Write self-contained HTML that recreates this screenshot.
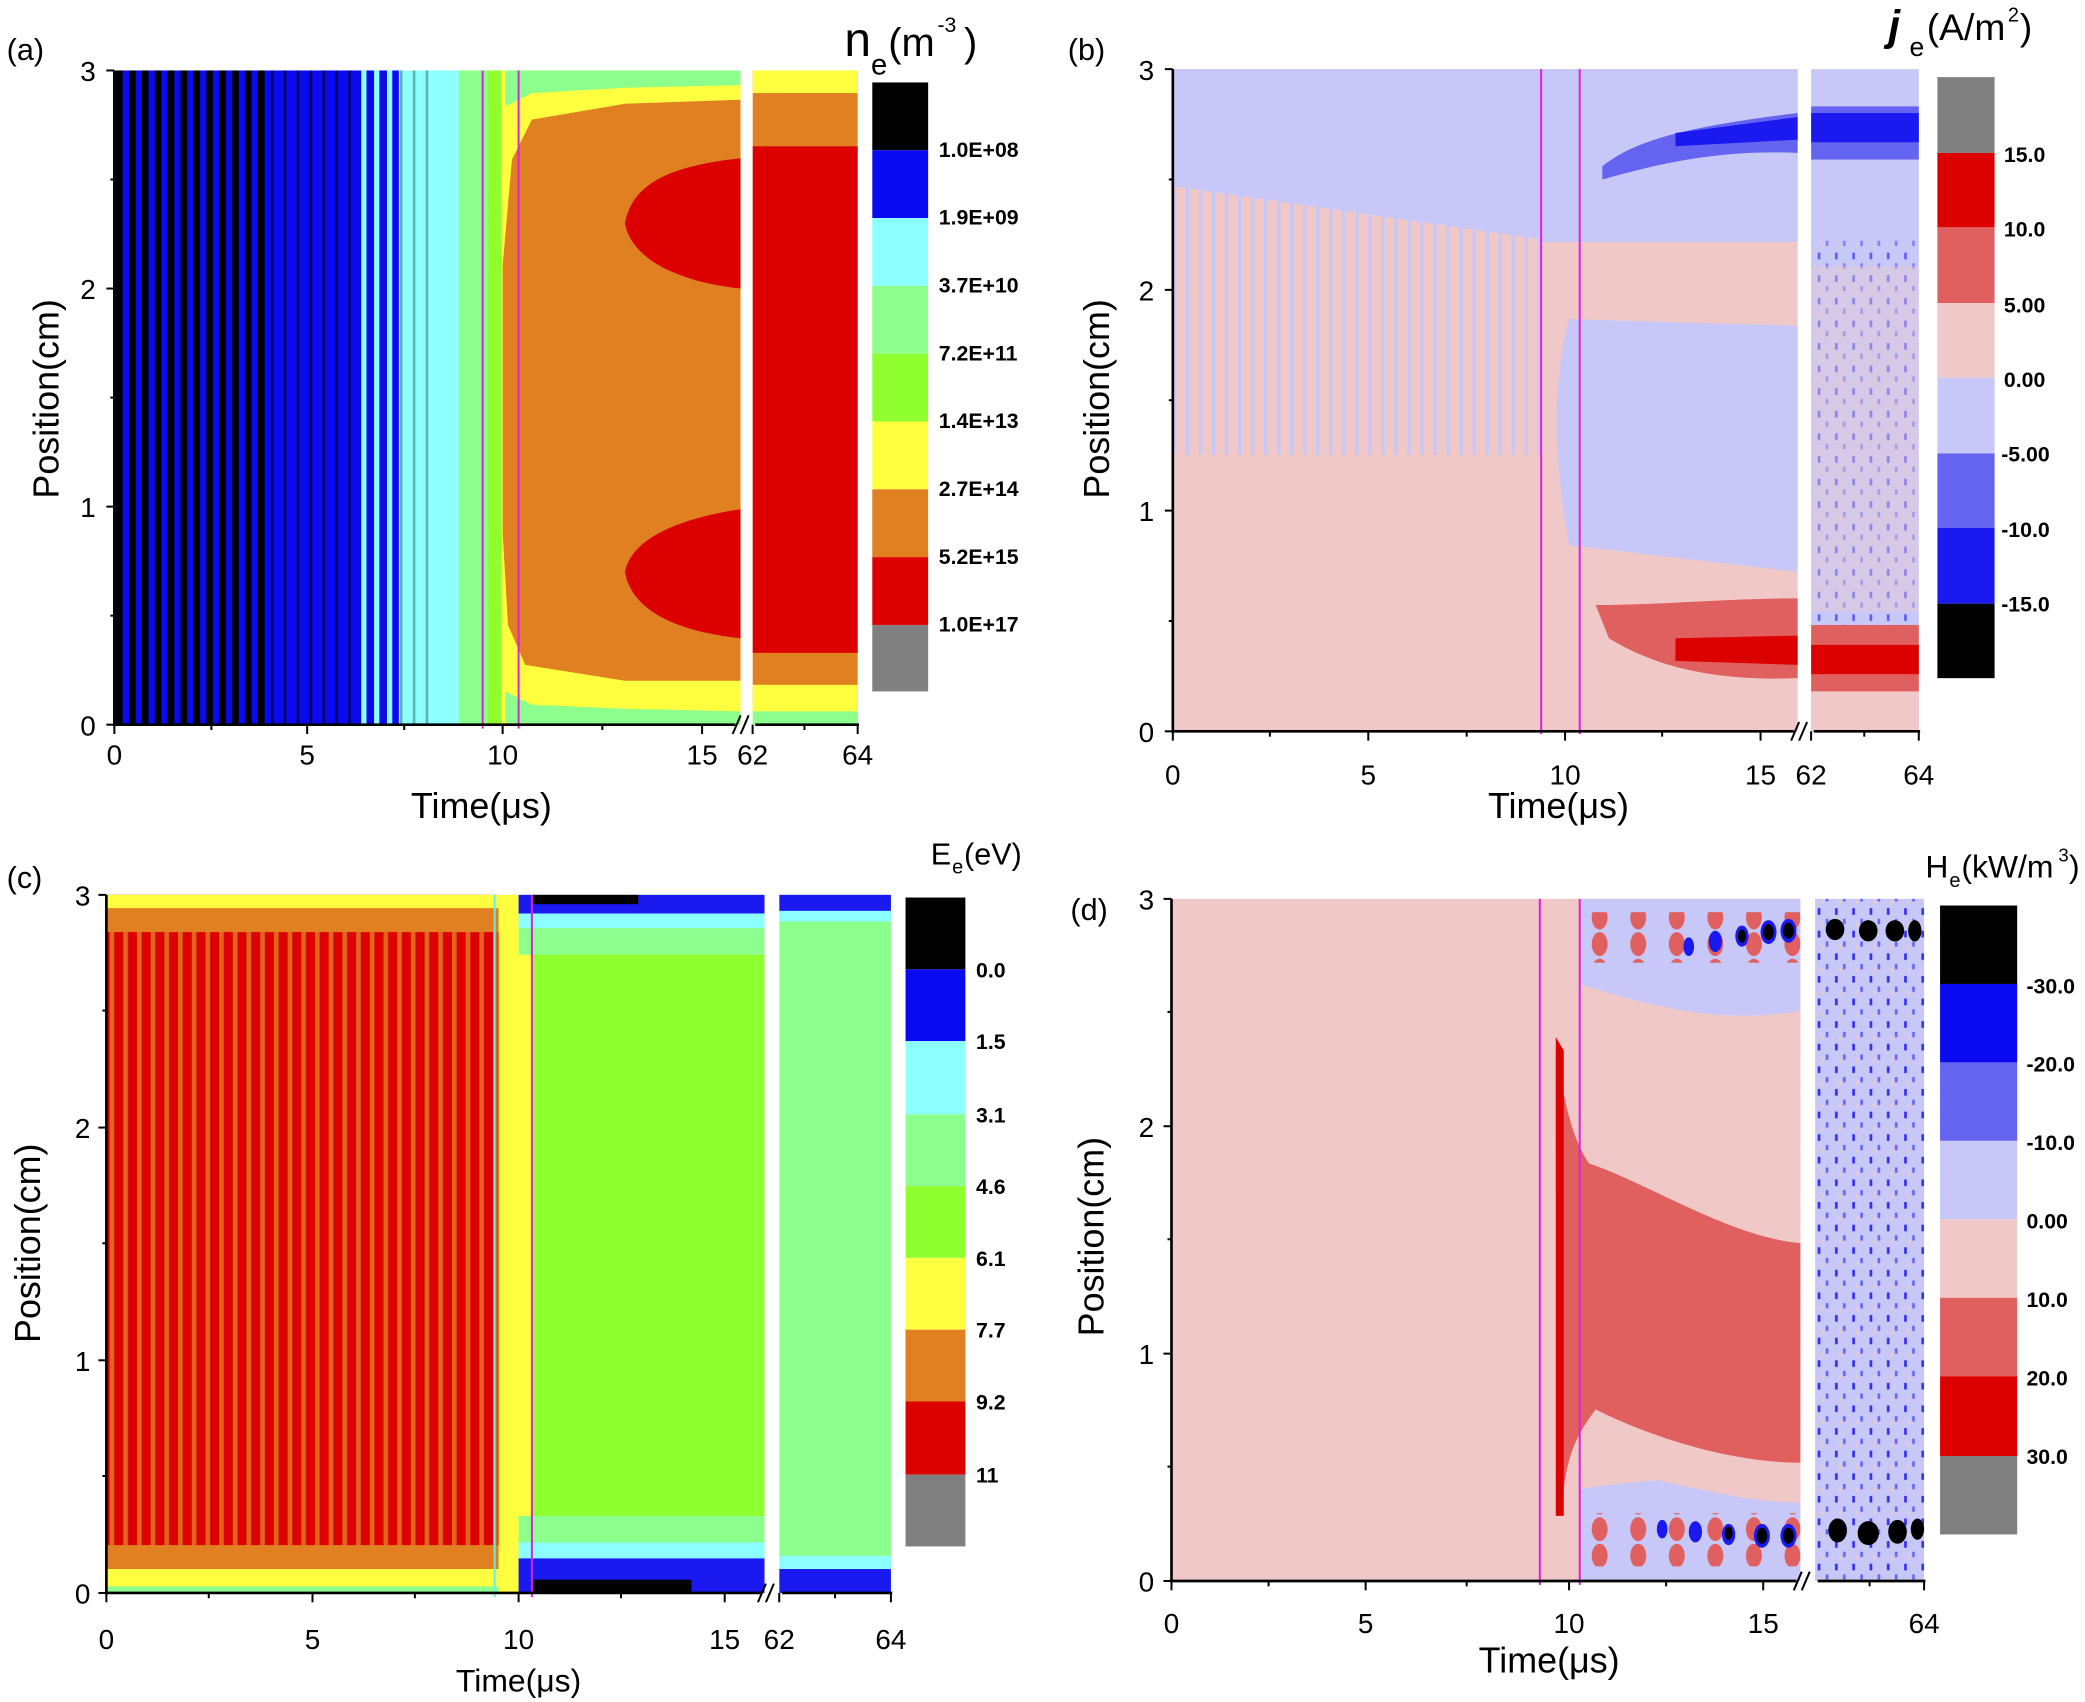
<!DOCTYPE html>
<html><head><meta charset="utf-8"><style>
html,body{margin:0;padding:0;background:#fff}
svg{display:block}
text{font-family:"Liberation Sans",sans-serif}
.t{font-size:21px}
.ax{font-size:27px}
.cb{font-size:16px;font-weight:bold}
</style></head><body>
<svg width="2085" height="1702" viewBox="0 0 1568 1280" preserveAspectRatio="none" xmlns="http://www.w3.org/2000/svg">
<defs>
<pattern id="pBlk" patternUnits="userSpaceOnUse" width="9.7" height="10"><rect width="5" height="10" fill="#000"/></pattern>
<pattern id="pBlkThin" patternUnits="userSpaceOnUse" width="9.7" height="10"><rect width="2" height="10" fill="#000"/></pattern>
<pattern id="pCy" patternUnits="userSpaceOnUse" width="9.7" height="10"><rect width="4" height="10" fill="#8cffff"/></pattern>
<pattern id="pOr" patternUnits="userSpaceOnUse" width="10.3" height="10"><rect width="3.5" height="10" fill="#e08020"/></pattern>
<pattern id="pLav" patternUnits="userSpaceOnUse" width="9.8" height="10"><rect width="2.5" height="10" fill="#c8c8f8"/></pattern>
<pattern id="pNoise" patternUnits="userSpaceOnUse" width="13" height="17"><rect x="2" y="3" width="2" height="5" fill="#3030ee"/><rect x="8" y="11" width="2" height="4" fill="#6666f0"/><rect x="5" y="14" width="1.5" height="3" fill="#f0c8c8"/></pattern>
<pattern id="pDotsA" patternUnits="userSpaceOnUse" width="29" height="20"><ellipse cx="14" cy="10" rx="6" ry="9" fill="#e06060"/></pattern>
</defs>

<!-- ============ PANEL A ============ -->
<g>
<rect x="86" y="53" width="214" height="492" fill="#0a0af0"/>
<rect x="86" y="53" width="114" height="492" fill="url(#pBlk)"/>
<rect x="200" y="53" width="100" height="492" fill="url(#pBlkThin)" opacity="0.6"/>
<rect x="270" y="53" width="30" height="492" fill="url(#pCy)"/>
<rect x="300" y="53" width="45" height="492" fill="#8cffff"/>
<rect x="300" y="53" width="25" height="492" fill="url(#pBlkThin)" opacity="0.3"/>
<rect x="345" y="53" width="22" height="492" fill="#8cff8c"/>
<rect x="367" y="53" width="10" height="492" fill="#90ff30"/>
<rect x="377" y="53" width="180" height="492" fill="#e08020"/>
<path d="M377 53 L557 53 L557 75 L470 78 L400 90 L385 120 L378 200 L378 400 L382 470 L395 500 L470 512 L557 512 L557 545 L377 545 Z" fill="#ffff40"/>
<path d="M380 53 L557 53 L557 64 L470 66 L400 70 L380 80 Z" fill="#8cff8c"/>
<path d="M380 545 L557 545 L557 535 L470 533 L400 530 L380 520 Z" fill="#8cff8c"/>
<path d="M557 119 C500 125 475 140 470 168 C475 195 510 212 557 217 Z" fill="#dd0000"/>
<path d="M557 383 C510 390 475 405 470 430 C475 460 510 475 557 480 Z" fill="#dd0000"/>
<rect x="566" y="53" width="79" height="492" fill="#e08020"/>
<rect x="566" y="53" width="79" height="17" fill="#ffff40"/>
<rect x="566" y="515" width="79" height="30" fill="#ffff40"/>
<rect x="566" y="535" width="79" height="10" fill="#8cff8c"/>
<rect x="566" y="110" width="79" height="381" fill="#dd0000"/>
<line x1="363" y1="53" x2="363" y2="548" stroke="#e020e0" stroke-width="1.5"/>
<line x1="390" y1="53" x2="390" y2="548" stroke="#e020e0" stroke-width="1.5"/>
<rect x="557" y="50" width="9" height="497" fill="#fff"/>
<line x1="86" y1="53" x2="86" y2="546" stroke="#000" stroke-width="2"/>
<line x1="85" y1="545" x2="553" y2="545" stroke="#000" stroke-width="2"/>
<line x1="568" y1="545" x2="646" y2="545" stroke="#000" stroke-width="2"/>
<g stroke="#000" stroke-width="1.5">
<line x1="86" y1="545" x2="86" y2="552"/><line x1="231" y1="545" x2="231" y2="552"/><line x1="378" y1="545" x2="378" y2="552"/><line x1="528" y1="545" x2="528" y2="552"/><line x1="566" y1="545" x2="566" y2="552"/><line x1="645" y1="545" x2="645" y2="552"/>
<line x1="159" y1="545" x2="159" y2="549"/><line x1="304" y1="545" x2="304" y2="549"/><line x1="453" y1="545" x2="453" y2="549"/><line x1="605" y1="545" x2="605" y2="549"/>
<line x1="80" y1="53" x2="86" y2="53"/><line x1="80" y1="217" x2="86" y2="217"/><line x1="80" y1="381" x2="86" y2="381"/><line x1="80" y1="545" x2="86" y2="545"/>
<line x1="83" y1="135" x2="86" y2="135"/><line x1="83" y1="299" x2="86" y2="299"/><line x1="83" y1="463" x2="86" y2="463"/>
<line x1="551" y1="552" x2="557" y2="538"/><line x1="557" y1="552" x2="563" y2="538"/>
</g>
<g class="t" text-anchor="middle"><text x="86" y="575">0</text><text x="231" y="575">5</text><text x="378" y="575">10</text><text x="528" y="575">15</text><text x="566" y="575">62</text><text x="645" y="575">64</text></g>
<g class="t" text-anchor="end"><text x="72" y="61">3</text><text x="72" y="225">2</text><text x="72" y="389">1</text><text x="72" y="553">0</text></g>
<text x="5" y="45" style="font-size:23px">(a)</text>
<text class="ax" x="362" y="615" text-anchor="middle">Time(μs)</text>
<text class="ax" transform="translate(44,300) rotate(-90)" text-anchor="middle">Position(cm)</text>
<text x="635" y="42" style="font-size:36px">n</text><text x="655" y="56" style="font-size:22px">e</text><text x="668" y="42" style="font-size:30px">(m</text><text x="705" y="24" style="font-size:16px">-3</text><text x="725" y="42" style="font-size:30px">)</text>
<rect x="656" y="62" width="42" height="51" fill="#000"/><rect x="656" y="113" width="42" height="51" fill="#0a0af0"/><rect x="656" y="164" width="42" height="51" fill="#8cffff"/><rect x="656" y="215" width="42" height="51" fill="#8cff8c"/><rect x="656" y="266" width="42" height="51" fill="#90ff30"/><rect x="656" y="317" width="42" height="51" fill="#ffff40"/><rect x="656" y="368" width="42" height="51" fill="#e08020"/><rect x="656" y="419" width="42" height="51" fill="#dd0000"/><rect x="656" y="470" width="42" height="50" fill="#808080"/>
<g class="cb"><text x="706" y="118">1.0E+08</text><text x="706" y="169">1.9E+09</text><text x="706" y="220">3.7E+10</text><text x="706" y="271">7.2E+11</text><text x="706" y="322">1.4E+13</text><text x="706" y="373">2.7E+14</text><text x="706" y="424">5.2E+15</text><text x="706" y="475">1.0E+17</text></g>
</g>

<!-- ============ PANEL B ============ -->
<g>
<rect x="882" y="52" width="470" height="498" fill="#f0c8c8"/>
<rect x="882" y="52" width="277" height="80" fill="#c8c8f8"/>
<rect x="882" y="132" width="277" height="210" fill="url(#pLav)"/>
<path d="M882 132 L1159 132 L1159 180 L882 140 Z" fill="#c8c8f8"/>
<rect x="1159" y="52" width="193" height="130" fill="#c8c8f8"/>
<path d="M1205 125 C1230 105 1270 95 1352 85 L1352 115 C1290 112 1240 125 1205 135 Z" fill="#6464f0"/>
<path d="M1260 100 L1352 88 L1352 105 L1260 110 Z" fill="#1a1af0"/>
<rect x="1159" y="182" width="193" height="50" fill="#f0c8c8"/>
<path d="M1180 240 L1352 245 L1352 430 L1180 410 C1170 350 1165 300 1180 240 Z" fill="#c8c8f8"/>
<path d="M1200 455 C1250 455 1300 450 1352 450 L1352 510 C1300 512 1250 505 1210 480 Z" fill="#e06060"/>
<path d="M1260 480 L1352 478 L1352 500 L1260 497 Z" fill="#dd0000"/>
<rect x="1362" y="52" width="81" height="498" fill="#c8c8f8"/>
<rect x="1362" y="180" width="81" height="300" fill="url(#pNoise)" opacity="0.7"/>
<rect x="1362" y="200" width="81" height="260" fill="#f0c8c8" opacity="0.35"/>
<rect x="1362" y="80" width="81" height="40" fill="#6464f0"/>
<rect x="1362" y="85" width="81" height="22" fill="#1a1af0"/>
<rect x="1362" y="470" width="81" height="50" fill="#e06060"/>
<rect x="1362" y="485" width="81" height="22" fill="#dd0000"/>
<rect x="1362" y="520" width="81" height="30" fill="#f0c8c8"/>
<line x1="1159" y1="52" x2="1159" y2="552" stroke="#e020e0" stroke-width="1.5"/>
<line x1="1188" y1="52" x2="1188" y2="552" stroke="#e020e0" stroke-width="1.5"/>
<rect x="1352" y="48" width="10" height="504" fill="#fff"/>
<line x1="882" y1="52" x2="882" y2="551" stroke="#000" stroke-width="2"/>
<line x1="881" y1="550" x2="1349" y2="550" stroke="#000" stroke-width="2"/>
<line x1="1364" y1="550" x2="1444" y2="550" stroke="#000" stroke-width="2"/>
<g stroke="#000" stroke-width="1.5">
<line x1="882" y1="550" x2="882" y2="557"/><line x1="1029" y1="550" x2="1029" y2="557"/><line x1="1177" y1="550" x2="1177" y2="557"/><line x1="1324" y1="550" x2="1324" y2="557"/><line x1="1362" y1="550" x2="1362" y2="557"/><line x1="1443" y1="550" x2="1443" y2="557"/>
<line x1="955" y1="550" x2="955" y2="554"/><line x1="1103" y1="550" x2="1103" y2="554"/><line x1="1250" y1="550" x2="1250" y2="554"/><line x1="1402" y1="550" x2="1402" y2="554"/>
<line x1="876" y1="52" x2="882" y2="52"/><line x1="876" y1="218" x2="882" y2="218"/><line x1="876" y1="384" x2="882" y2="384"/><line x1="876" y1="550" x2="882" y2="550"/>
<line x1="879" y1="135" x2="882" y2="135"/><line x1="879" y1="301" x2="882" y2="301"/><line x1="879" y1="467" x2="882" y2="467"/>
<line x1="1347" y1="557" x2="1353" y2="543"/><line x1="1353" y1="557" x2="1359" y2="543"/>
</g>
<g class="t" text-anchor="middle"><text x="882" y="590">0</text><text x="1029" y="590">5</text><text x="1177" y="590">10</text><text x="1324" y="590">15</text><text x="1362" y="590">62</text><text x="1443" y="590">64</text></g>
<g class="t" text-anchor="end"><text x="868" y="60">3</text><text x="868" y="226">2</text><text x="868" y="392">1</text><text x="868" y="558">0</text></g>
<text x="803" y="45" style="font-size:23px">(b)</text>
<text class="ax" x="1172" y="615" text-anchor="middle">Time(μs)</text>
<text class="ax" transform="translate(834,300) rotate(-90)" text-anchor="middle">Position(cm)</text>
<text x="1420" y="30" style="font-size:32px;font-weight:bold;font-style:italic">j</text><text x="1436" y="42" style="font-size:20px">e</text><text x="1449" y="30" style="font-size:28px">(A/m</text><text x="1510" y="16" style="font-size:15px">2</text><text x="1519" y="30" style="font-size:28px">)</text>
<rect x="1457" y="58" width="43" height="57" fill="#808080"/><rect x="1457" y="115" width="43" height="56" fill="#dd0000"/><rect x="1457" y="171" width="43" height="57" fill="#e06060"/><rect x="1457" y="228" width="43" height="56" fill="#f0c8c8"/><rect x="1457" y="284" width="43" height="57" fill="#c8c8f8"/><rect x="1457" y="341" width="43" height="56" fill="#6464f0"/><rect x="1457" y="397" width="43" height="57" fill="#1a1af0"/><rect x="1457" y="454" width="43" height="56" fill="#000"/>
<g class="cb"><text x="1507" y="122">15.0</text><text x="1507" y="178">10.0</text><text x="1507" y="235">5.00</text><text x="1507" y="291">0.00</text><text x="1505" y="347">-5.00</text><text x="1505" y="404">-10.0</text><text x="1505" y="460">-15.0</text></g>
</g>

<!-- ============ PANEL C ============ -->
<g>
<rect x="80" y="673" width="295" height="525" fill="#dd0000"/>
<rect x="80" y="690" width="295" height="490" fill="url(#pOr)" opacity="0.8"/>
<rect x="80" y="673" width="295" height="28" fill="#e08020"/>
<rect x="80" y="1162" width="295" height="36" fill="#e08020"/>
<rect x="80" y="673" width="295" height="10" fill="#ffff40"/>
<rect x="80" y="1180" width="295" height="18" fill="#ffff40"/>
<rect x="80" y="1193" width="295" height="5" fill="#8cff8c"/>
<rect x="375" y="673" width="200" height="525" fill="#90ff30"/>
<rect x="375" y="673" width="25" height="525" fill="#ffff40"/>
<rect x="390" y="673" width="185" height="45" fill="#8cff8c"/>
<rect x="390" y="673" width="185" height="25" fill="#8cffff"/>
<rect x="390" y="673" width="185" height="14" fill="#1a1af0"/>
<rect x="400" y="673" width="80" height="7" fill="#000"/>
<rect x="390" y="1140" width="185" height="58" fill="#8cff8c"/>
<rect x="390" y="1160" width="185" height="38" fill="#8cffff"/>
<rect x="390" y="1172" width="185" height="26" fill="#1a1af0"/>
<rect x="400" y="1188" width="120" height="10" fill="#000"/>
<rect x="586" y="673" width="84" height="525" fill="#8cff8c"/>
<rect x="586" y="673" width="84" height="20" fill="#8cffff"/>
<rect x="586" y="673" width="84" height="12" fill="#1a1af0"/>
<rect x="586" y="1170" width="84" height="28" fill="#8cffff"/>
<rect x="586" y="1180" width="84" height="18" fill="#1a1af0"/>
<line x1="372" y1="673" x2="372" y2="1201" stroke="#60f0f0" stroke-width="1.5"/>
<line x1="400" y1="673" x2="400" y2="1201" stroke="#e020e0" stroke-width="1.5"/>
<rect x="575" y="670" width="11" height="532" fill="#fff"/>
<line x1="80" y1="673" x2="80" y2="1199" stroke="#000" stroke-width="2"/>
<line x1="79" y1="1198" x2="572" y2="1198" stroke="#000" stroke-width="2"/>
<line x1="588" y1="1198" x2="671" y2="1198" stroke="#000" stroke-width="2"/>
<g stroke="#000" stroke-width="1.5">
<line x1="80" y1="1198" x2="80" y2="1205"/><line x1="235" y1="1198" x2="235" y2="1205"/><line x1="390" y1="1198" x2="390" y2="1205"/><line x1="545" y1="1198" x2="545" y2="1205"/><line x1="586" y1="1198" x2="586" y2="1205"/><line x1="670" y1="1198" x2="670" y2="1205"/>
<line x1="157" y1="1198" x2="157" y2="1202"/><line x1="312" y1="1198" x2="312" y2="1202"/><line x1="467" y1="1198" x2="467" y2="1202"/><line x1="628" y1="1198" x2="628" y2="1202"/>
<line x1="74" y1="673" x2="80" y2="673"/><line x1="74" y1="848" x2="80" y2="848"/><line x1="74" y1="1023" x2="80" y2="1023"/><line x1="74" y1="1198" x2="80" y2="1198"/>
<line x1="77" y1="760" x2="80" y2="760"/><line x1="77" y1="935" x2="80" y2="935"/><line x1="77" y1="1110" x2="80" y2="1110"/>
<line x1="570" y1="1205" x2="576" y2="1191"/><line x1="576" y1="1205" x2="582" y2="1191"/>
</g>
<g class="t" text-anchor="middle"><text x="80" y="1240">0</text><text x="235" y="1240">5</text><text x="390" y="1240">10</text><text x="545" y="1240">15</text><text x="586" y="1240">62</text><text x="670" y="1240">64</text></g>
<g class="t" text-anchor="end"><text x="68" y="681">3</text><text x="68" y="856">2</text><text x="68" y="1031">1</text><text x="68" y="1206">0</text></g>
<text x="5" y="668" style="font-size:23px">(c)</text>
<text class="ax" x="390" y="1272" text-anchor="middle" style="font-size:24px">Time(μs)</text>
<text class="ax" transform="translate(30,935) rotate(-90)" text-anchor="middle">Position(cm)</text>
<text x="700" y="650" style="font-size:23px">E</text><text x="716" y="657" style="font-size:15px">e</text><text x="725" y="650" style="font-size:23px">(eV)</text>
<rect x="681" y="675" width="45" height="54" fill="#000"/><rect x="681" y="729" width="45" height="54" fill="#0a0af0"/><rect x="681" y="783" width="45" height="55" fill="#8cffff"/><rect x="681" y="838" width="45" height="54" fill="#8cff8c"/><rect x="681" y="892" width="45" height="54" fill="#90ff30"/><rect x="681" y="946" width="45" height="54" fill="#ffff40"/><rect x="681" y="1000" width="45" height="54" fill="#e08020"/><rect x="681" y="1054" width="45" height="55" fill="#dd0000"/><rect x="681" y="1109" width="45" height="54" fill="#808080"/>
<g class="cb"><text x="734" y="735">0.0</text><text x="734" y="789">1.5</text><text x="734" y="844">3.1</text><text x="734" y="898">4.6</text><text x="734" y="952">6.1</text><text x="734" y="1006">7.7</text><text x="734" y="1060">9.2</text><text x="734" y="1115">11</text></g>
</g>

<!-- ============ PANEL D ============ -->
<g>
<rect x="881" y="676" width="473" height="513" fill="#f0c8c8"/>
<rect x="1188" y="676" width="166" height="513" fill="#c8c8f8"/>
<path d="M1188 740 C1250 760 1300 770 1354 760 L1354 1120 C1300 1110 1250 1110 1188 1120 Z" fill="#f0c8c8"/>
<path d="M1168 770 C1175 830 1185 860 1195 875 C1250 890 1300 900 1354 895 L1354 1130 C1300 1130 1250 1110 1195 1105 C1185 1120 1178 1130 1175 1155 C1168 1100 1168 900 1168 770 Z" fill="#f0c8c8"/>
<path d="M1170 790 C1178 840 1185 860 1195 875 C1240 890 1300 930 1354 935 L1354 1100 C1300 1100 1240 1080 1200 1060 C1185 1080 1178 1095 1175 1130 C1170 1050 1170 900 1170 790 Z" fill="#e06060"/>
<path d="M1170 780 L1176 790 L1176 1140 L1170 1140 Z" fill="#dd0000"/>
<rect x="1195" y="686" width="159" height="38" fill="url(#pDotsA)"/>
<rect x="1195" y="1138" width="159" height="40" fill="url(#pDotsA)"/>
<g fill="#1a1af0"><ellipse cx="1270" cy="712" rx="4" ry="7"/><ellipse cx="1290" cy="708" rx="5" ry="8"/><ellipse cx="1310" cy="704" rx="5" ry="8"/><ellipse cx="1330" cy="701" rx="6" ry="9"/><ellipse cx="1345" cy="700" rx="6" ry="9"/><ellipse cx="1250" cy="1150" rx="4" ry="7"/><ellipse cx="1275" cy="1152" rx="5" ry="8"/><ellipse cx="1300" cy="1154" rx="5" ry="8"/><ellipse cx="1325" cy="1155" rx="6" ry="9"/><ellipse cx="1345" cy="1155" rx="6" ry="9"/></g>
<g fill="#000"><ellipse cx="1310" cy="704" rx="3" ry="5"/><ellipse cx="1330" cy="701" rx="4" ry="6"/><ellipse cx="1345" cy="700" rx="4" ry="6"/><ellipse cx="1300" cy="1153" rx="3" ry="5"/><ellipse cx="1325" cy="1155" rx="4" ry="6"/><ellipse cx="1345" cy="1155" rx="4" ry="6"/></g>
<rect x="1365" y="676" width="82" height="513" fill="#c8c8f8"/>
<rect x="1365" y="676" width="82" height="513" fill="url(#pNoise)"/>
<g fill="#000"><ellipse cx="1380" cy="699" rx="7" ry="8"/><ellipse cx="1405" cy="700" rx="7" ry="8"/><ellipse cx="1425" cy="700" rx="7" ry="8"/><ellipse cx="1440" cy="700" rx="5" ry="8"/><ellipse cx="1382" cy="1151" rx="7" ry="9"/><ellipse cx="1405" cy="1153" rx="8" ry="9"/><ellipse cx="1427" cy="1152" rx="7" ry="9"/><ellipse cx="1442" cy="1150" rx="5" ry="8"/></g>
<line x1="1158" y1="676" x2="1158" y2="1192" stroke="#e020e0" stroke-width="1.5"/>
<line x1="1188" y1="676" x2="1188" y2="1192" stroke="#e020e0" stroke-width="1.5"/>
<rect x="1354" y="672" width="11" height="522" fill="#fff"/>
<line x1="881" y1="676" x2="881" y2="1190" stroke="#000" stroke-width="2"/>
<line x1="880" y1="1189" x2="1351" y2="1189" stroke="#000" stroke-width="2"/>
<line x1="1367" y1="1189" x2="1448" y2="1189" stroke="#000" stroke-width="2"/>
<g stroke="#000" stroke-width="1.5">
<line x1="881" y1="1189" x2="881" y2="1196"/><line x1="1027" y1="1189" x2="1027" y2="1196"/><line x1="1180" y1="1189" x2="1180" y2="1196"/><line x1="1326" y1="1189" x2="1326" y2="1196"/><line x1="1447" y1="1189" x2="1447" y2="1196"/>
<line x1="954" y1="1189" x2="954" y2="1193"/><line x1="1103" y1="1189" x2="1103" y2="1193"/><line x1="1253" y1="1189" x2="1253" y2="1193"/><line x1="1406" y1="1189" x2="1406" y2="1193"/>
<line x1="875" y1="676" x2="881" y2="676"/><line x1="875" y1="847" x2="881" y2="847"/><line x1="875" y1="1018" x2="881" y2="1018"/><line x1="875" y1="1189" x2="881" y2="1189"/>
<line x1="878" y1="761" x2="881" y2="761"/><line x1="878" y1="932" x2="881" y2="932"/><line x1="878" y1="1103" x2="881" y2="1103"/>
<line x1="1349" y1="1196" x2="1355" y2="1182"/><line x1="1355" y1="1196" x2="1361" y2="1182"/>
</g>
<g class="t" text-anchor="middle"><text x="881" y="1228">0</text><text x="1027" y="1228">5</text><text x="1180" y="1228">10</text><text x="1326" y="1228">15</text><text x="1447" y="1228">64</text></g>
<g class="t" text-anchor="end"><text x="868" y="684">3</text><text x="868" y="855">2</text><text x="868" y="1026">1</text><text x="868" y="1197">0</text></g>
<text x="805" y="692" style="font-size:23px">(d)</text>
<text class="ax" x="1165" y="1258" text-anchor="middle">Time(μs)</text>
<text class="ax" transform="translate(830,930) rotate(-90)" text-anchor="middle">Position(cm)</text>
<text x="1448" y="660" style="font-size:24px">H</text><text x="1466" y="667" style="font-size:15px">e</text><text x="1475" y="660" style="font-size:24px">(kW/m</text><text x="1548" y="648" style="font-size:14px">3</text><text x="1556" y="660" style="font-size:24px">)</text>
<rect x="1459" y="681" width="58" height="59" fill="#000"/><rect x="1459" y="740" width="58" height="59" fill="#0a0af0"/><rect x="1459" y="799" width="58" height="59" fill="#6464f0"/><rect x="1459" y="858" width="58" height="59" fill="#c8c8f8"/><rect x="1459" y="917" width="58" height="59" fill="#f0c8c8"/><rect x="1459" y="976" width="58" height="59" fill="#e06060"/><rect x="1459" y="1035" width="58" height="60" fill="#dd0000"/><rect x="1459" y="1095" width="58" height="59" fill="#808080"/>
<g class="cb"><text x="1524" y="747">-30.0</text><text x="1524" y="806">-20.0</text><text x="1524" y="865">-10.0</text><text x="1524" y="924">0.00</text><text x="1524" y="983">10.0</text><text x="1524" y="1042">20.0</text><text x="1524" y="1101">30.0</text></g>
</g>
</svg>
</body></html>
